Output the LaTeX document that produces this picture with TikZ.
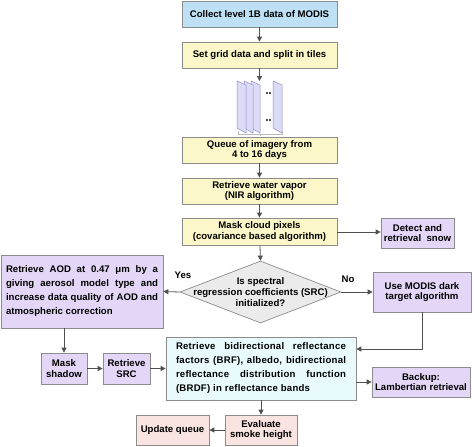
\documentclass[tikz,border=0pt]{standalone}
\usepackage{fontspec}
\setmainfont{Liberation Sans}
\usetikzlibrary{arrows.meta,shapes.geometric}
\definecolor{cblue}{HTML}{BEE0F4}
\definecolor{cyel}{HTML}{FCF7C8}
\definecolor{cpur}{HTML}{E4D6F6}
\definecolor{ccyan}{HTML}{E8FAFC}
\definecolor{cpink}{HTML}{FAE4E2}
\definecolor{cgray}{HTML}{EBEBEB}
\definecolor{cline}{HTML}{505050}
\definecolor{cbord}{HTML}{8C8C8C}
\definecolor{cpage}{HTML}{DCDCF6}
\definecolor{cpageb}{HTML}{8A8AC8}
\begin{document}
\begin{tikzpicture}[x=1pt,y=-1pt,
  box/.style={draw=cbord, line width=0.7pt, inner sep=0pt, align=center,
    font=\fontsize{9.6}{10.5}\selectfont\bfseries},
  jbox/.style={draw=cbord, line width=0.7pt, inner sep=0pt, align=justify,
    font=\fontsize{9.6}{14}\selectfont\bfseries},
  arr/.style={draw=cline, line width=0.8pt, -{Triangle[width=5pt,length=5pt]}},
  lbl/.style={inner sep=0pt, font=\fontsize{9.6}{10.5}\selectfont\bfseries},
  sheet/.style={fill=cpage, draw=cpageb, line width=0.5pt},
  dots/.style={cline, line width=1.4pt, dash pattern=on 2pt off 1.2pt}
]
\useasboundingbox (0,0) rectangle (474,447);

% main column
\node[box, fill=cblue, minimum width=155pt, minimum height=26pt] (n1) at (259.5,14) {Collect level 1B data of MODIS};
\node[box, fill=cyel, minimum width=155pt, minimum height=26pt] (n2) at (259.5,55) {Set grid data and split in tiles};

% stack of images
\filldraw[sheet] (273,81) -- (282,85) -- (282,133) -- (273,128) -- cycle;
\filldraw[sheet] (251,81) -- (260,85) -- (260,133) -- (251,128) -- cycle;
\filldraw[sheet] (244,81) -- (253,85) -- (253,133) -- (244,128) -- cycle;
\filldraw[sheet] (237,81) -- (246,85) -- (246,133) -- (237,128) -- cycle;
\draw[dots] (266,93) -- (272,93);
\draw[dots] (266,120) -- (272,120);
\draw[gray!55, line width=0.5pt] (238,131) -- (238,134) -- (282,134) -- (282,131);
\draw[gray!55, line width=0.5pt] (260,134) -- (260,136);
\coordinate (pgtop) at (259.5,81);

\node[box, fill=cyel, minimum width=155pt, minimum height=26pt] (n3) at (259.5,150) {Queue of imagery from\\4 to 16 days};
\node[box, fill=cyel, minimum width=155pt, minimum height=26pt] (n4) at (259.5,191) {Retrieve water vapor\\(NIR algorithm)};
\node[box, fill=cyel, minimum width=155pt, minimum height=27pt] (n5) at (259.5,231.5) {Mask cloud pixels\\(covariance based algorithm)};
\node[box, fill=cpur, minimum width=73pt, minimum height=30pt] (snow) at (417.5,233) {Detect and\\retrieval\ \ snow};

% decision
\node[diamond, draw=cbord, line width=0.7pt, fill=cgray, inner sep=0pt, minimum width=161pt, minimum height=62pt] (dia) at (260.5,292) {};
\node[lbl, align=center, font=\fontsize{9.6}{11}\selectfont\bfseries] (diatx) at (dia.center) {Is spectral\\regression coefficients (SRC)\\initialized?};

\node[jbox, fill=cpur, minimum width=162pt, minimum height=73pt, text width=152pt] (aod) at (82,291.5)
 {\tolerance=10000\hbadness=10000\relax Retrieve AOD at 0.47 μm by a\linebreak giving aerosol model type and\linebreak increase data quality of AOD and\linebreak atmospheric correction};
\node[box, fill=cpur, minimum width=98pt, minimum height=40pt] (dark) at (422,292) {Use MODIS dark\\target algorithm};

\node[lbl] (yes) at (183,275) {Yes};
\node[lbl] (no) at (348,279) {No};

\node[jbox, fill=ccyan, minimum width=190pt, minimum height=63pt, text width=170pt] (brf) at (261,368.5)
 {\addfontfeatures{LetterSpace=2.5}\tolerance=10000\hbadness=10000\relax Retrieve bidirectional reflectance\linebreak factors (BRF), albedo, bidirectional\linebreak reflectance distribution function\linebreak (BRDF) in reflectance bands};
\node[box, fill=cpur, minimum width=46pt, minimum height=31pt] (shadow) at (64,368.5) {Mask\\shadow};
\node[box, fill=cpur, minimum width=47pt, minimum height=31pt] (src) at (126.5,368.5) {Retrieve\\SRC};
\node[box, fill=cpur, minimum width=98pt, minimum height=30pt] (backup) at (421,382) {Backup:\\Lambertian retrieval};
\node[box, fill=cpink, minimum width=72pt, minimum height=30pt] (eval) at (261,430) {Evaluate\\smoke height};
\node[box, fill=cpink, minimum width=73pt, minimum height=30pt] (upd) at (172.5,430) {Update queue};

% connectors
\draw[arr] (n1) -- (n2);
\draw[arr] (n2) -- (pgtop);
\draw[arr] (n3) -- (n4);
\draw[arr] (n4) -- (n5);
\draw[arr] (n5.east |- snow.west) ++(0,-1) -- (snow.west |- 0,232);
\draw[arr] (n5) -- (dia.north);
\draw[arr] (dia.west) -- (aod.east);
\draw[arr] (dia.east) -- (dark.west);
\draw[arr] (shadow.north |- aod.south) -- (shadow.north);
\draw[arr] (shadow) -- (src);
\draw[arr] (src) -- (brf.west);
\draw[arr] (dark.south) |- ([yshift=19.5pt]brf.east);
\draw[arr] (brf.east |- backup.west) -- (backup.west);
\draw[arr] (brf.south -| eval.north) -- (eval.north);
\draw[arr] (eval) -- (upd);
\end{tikzpicture}
\end{document}
